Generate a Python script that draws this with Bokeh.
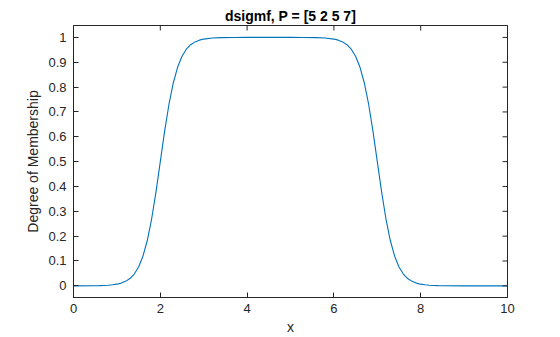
import math
from bokeh.plotting import figure
from bokeh.models import FixedTicker, Range1d
from bokeh.embed import file_html
from bokeh.resources import INLINE

# Values
x_vals = [0.0, 0.5, 0.6, 0.7, 0.8, 0.9, 1.0, 1.1, 1.2, 1.3, 1.4, 1.5, 1.6, 1.7, 1.8, 1.9,
          2.0, 2.1, 2.2, 2.3, 2.4, 2.5, 2.6, 2.7, 2.8, 2.9, 3.0, 3.2, 3.4, 3.7, 4.0, 4.5,
          5.0, 5.3, 5.6, 5.8, 6.0, 6.1, 6.2, 6.3, 6.4, 6.5, 6.6, 6.7, 6.8, 6.9, 7.0,
          7.1, 7.2, 7.3, 7.4, 7.5, 7.6, 7.7, 7.8, 7.9, 8.0, 8.1, 8.2, 8.3, 8.4, 8.5,
          9.0, 10.0]
y_vals = [0.0000, 0.0006, 0.0009, 0.0015, 0.0025, 0.0041, 0.0067, 0.0110, 0.0180, 0.0293,
          0.0474, 0.0759, 0.1192, 0.1824, 0.2689, 0.3775, 0.5000, 0.6225, 0.7311, 0.8176,
          0.8808, 0.9241, 0.9526, 0.9707, 0.9820, 0.9890, 0.9933, 0.9975, 0.9991, 0.9998,
          1.0000, 1.0000,
          1.0000, 0.9998, 0.9991, 0.9975, 0.9933, 0.9890, 0.9820, 0.9707, 0.9526, 0.9241,
          0.8808, 0.8176, 0.7311, 0.6225, 0.5000, 0.3775, 0.2689, 0.1824, 0.1192, 0.0759,
          0.0474, 0.0293, 0.0180, 0.0110, 0.0067, 0.0041, 0.0025, 0.0015, 0.0009, 0.0006,
          0.0000, 0.0000]
x_ticks = [0, 2, 4, 6, 8, 10]
y_ticks = [0, 0.1, 0.2, 0.3, 0.4, 0.5, 0.6, 0.7, 0.8, 0.9, 1]
y_tick_labels = {0: "0", 0.1: "0.1", 0.2: "0.2", 0.3: "0.3", 0.4: "0.4", 0.5: "0.5",
                 0.6: "0.6", 0.7: "0.7", 0.8: "0.8", 0.9: "0.9", 1: "1"}
x_min, x_max = 0, 10
y_min, y_max = -0.047, 1.048

FONT = "Liberation Sans"
AX = "#262626"

p = figure(width=560, height=337, output_backend="svg", toolbar_location=None,
           x_range=Range1d(x_min, x_max), y_range=Range1d(y_min, y_max),
           min_border_left=73, min_border_right=53, min_border_top=25, min_border_bottom=39)
p.title.text = "dsigmf, P = [5 2 5 7]"
p.title.align = "center"
p.title.text_font = FONT
p.title.text_font_size = "14px"
p.title.text_font_style = "bold"
p.title.text_color = "#000000"
p.title.standoff = 4
p.title.offset = 0

p.line(x_vals, y_vals, line_color="#0072BD", line_width=1.1)

# inward ticks on the top and right edges of the box
p.ray(x=x_ticks, y=[y_max] * len(x_ticks), length=5, length_units="screen",
      angle=-math.pi / 2, line_color=AX, line_width=1)
p.ray(x=[x_max] * len(y_ticks), y=y_ticks, length=5, length_units="screen",
      angle=math.pi, line_color=AX, line_width=1)

p.grid.visible = False
p.background_fill_color = "white"
p.border_fill_color = "white"
p.outline_line_color = AX
p.outline_line_width = 1

p.xaxis.axis_label = "x"
p.yaxis.axis_label = "Degree of Membership"
for ax in [p.xaxis[0], p.yaxis[0]]:
    ax.axis_label_text_font = FONT
    ax.axis_label_text_font_size = "14px"
    ax.axis_label_text_font_style = "normal"
    ax.axis_label_text_color = AX
    ax.major_label_text_font = FONT
    ax.major_label_text_font_size = "13px"
    ax.major_label_text_color = AX
    ax.axis_line_color = AX
    ax.major_tick_line_color = AX
    ax.major_tick_in = 5
    ax.major_tick_out = 0
    ax.minor_tick_line_color = None
p.xaxis.ticker = FixedTicker(ticks=x_ticks)
p.yaxis.ticker = FixedTicker(ticks=y_ticks)
p.yaxis.major_label_overrides = y_tick_labels
p.xaxis.major_label_standoff = 6
p.yaxis.major_label_standoff = 7
p.xaxis.axis_label_standoff = 3
p.yaxis.axis_label_standoff = 4

open("out.html", "w").write(file_html(p, INLINE))
